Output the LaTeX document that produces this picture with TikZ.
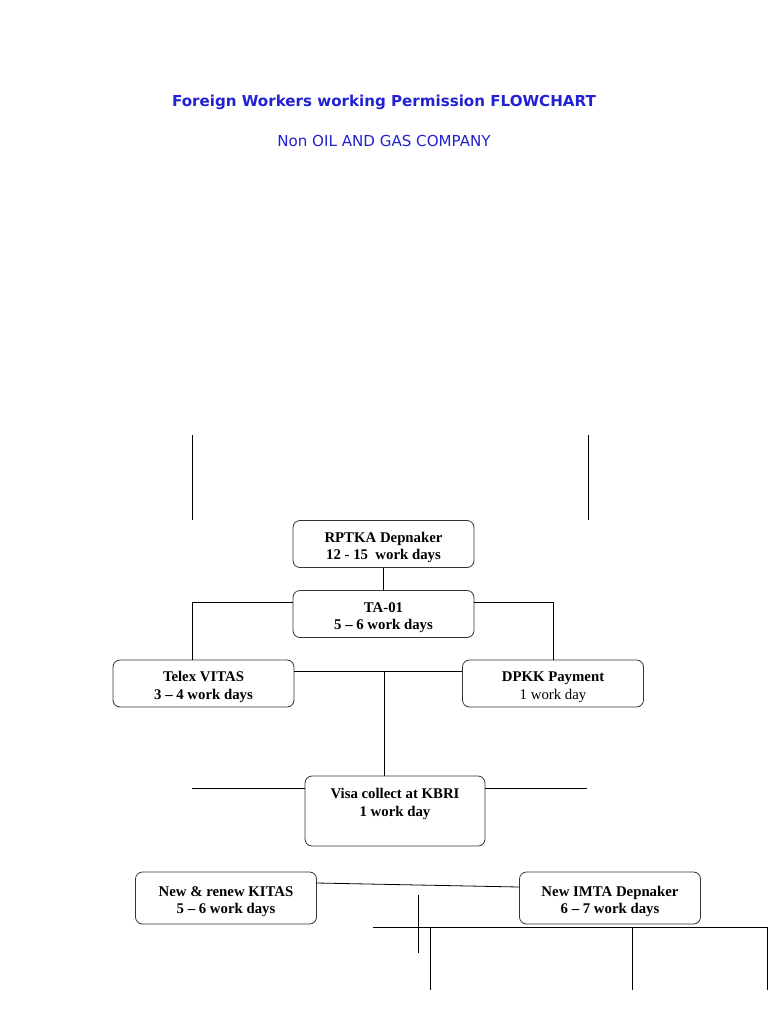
\documentclass[tikz,border=0pt]{standalone}
\usepackage{fontspec}
\setmainfont{Liberation Serif}
\newfontfamily\titlefont{DejaVu Sans}
\definecolor{titleblue}{RGB}{34,34,210}
\newcommand\bxtext[1]{\raisebox{-3.5pt}[\height][\depth]{\begin{tabular}{@{}c@{}}#1\end{tabular}}}
\begin{document}
\begin{tikzpicture}[x=1pt,y=-1pt,
  box/.style={draw=black!80,line width=0.8pt,rounded corners=7pt,minimum width=181pt,minimum height=47pt,inner sep=0pt,font=\fontsize{14.8}{17.5}\selectfont\bfseries},
  conn/.style={draw=black,line width=0.8pt},
  ttl/.style={text=titleblue,font=\titlefont\fontsize{15.1}{18}\selectfont}]
\useasboundingbox (0,0) rectangle (768,1024);
\fill[white] (0,0) rectangle (768,1024);
\node[ttl,font=\titlefont\bfseries\fontsize{15.1}{18}\selectfont] (title) at (384,102.5) {Foreign Workers working Permission FLOWCHART};
\node[ttl] (sub) at (384,141.5) {Non OIL AND GAS COMPANY};
% boxes
\node[box] (rptka) at (383.5,544) {\bxtext{RPTKA Depnaker\\12 - 15\ \ work days}};
\node[box] (ta) at (383.5,614) {\bxtext{TA-01\\5 -- 6 work days}};
\node[box] (telex) at (203.5,683.5) {\bxtext{Telex VITAS\\3 -- 4 work days}};
\node[box] (dpkk) at (553,683.5) {\bxtext{DPKK Payment\\\mdseries 1 work day}};
\node[box,minimum width=180pt,minimum height=70pt,align=center] (visa) at (395,811) {Visa collect at KBRI\\1 work day\\\mbox{}};
\node[box,minimum height=52pt] (kitas) at (226,898) {\bxtext{New \& renew KITAS\\5 -- 6 work days}};
\node[box,minimum height=52pt] (imta) at (610,898) {\bxtext{New IMTA Depnaker\\6 -- 7 work days}};
% coordinates
\coordinate (tl1) at (192,435); \coordinate (tl2) at (192,520);
\coordinate (tr1) at (588,435); \coordinate (tr2) at (588,520);
\coordinate (j1) at (384,671);
\coordinate (vl) at (192,788); \coordinate (vr) at (587,788);
\coordinate (b1) at (418,895); \coordinate (b2) at (418,953);
\coordinate (h1) at (373,927); \coordinate (h2) at (768,927);
\coordinate (d1) at (430,927); \coordinate (d1e) at (430,990);
\coordinate (d2) at (632,927); \coordinate (d2e) at (632,990);
\coordinate (d3) at (767,927); \coordinate (d3e) at (767,990);
% connectors
\draw[conn] (tl1) -- (tl2);
\draw[conn] (tr1) -- (tr2);
\draw[conn] (rptka.south) -- (ta.north);
\draw[conn] ([yshift=12pt]ta.west) -| ([xshift=-11.5pt]telex.north);
\draw[conn] ([yshift=12pt]ta.east) -| (dpkk.north);
\draw[conn] ([yshift=12.5pt]telex.east) -- ([yshift=12.5pt]dpkk.west);
\draw[conn] (j1) -- (j1 |- visa.north);
\draw[conn] (vl) -- (vl -| visa.west);
\draw[conn] (vr -| visa.east) -- (vr);
\draw[conn] ([yshift=15pt]kitas.east) -- ([yshift=11pt]imta.west);
\draw[conn] (b1) -- (b2);
\draw[conn] (h1) -- (h2);
\draw[conn] (d1) -- (d1e);
\draw[conn] (d2) -- (d2e);
\draw[conn] (d3) -- (d3e);
\end{tikzpicture}
\end{document}
